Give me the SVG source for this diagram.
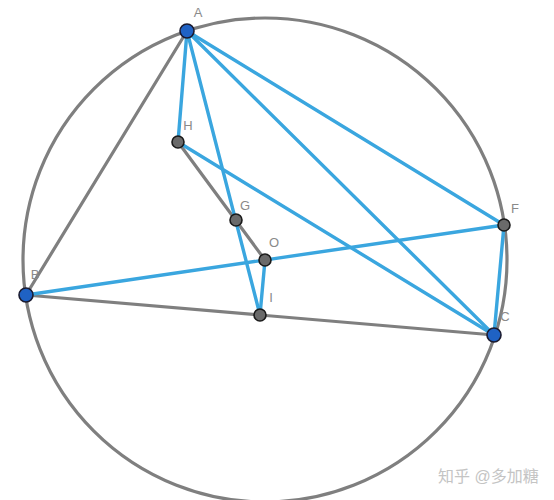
<svg xmlns="http://www.w3.org/2000/svg" width="554" height="500" viewBox="0 0 554 500">
<style>
.gray{stroke:#7f7f7f;stroke-width:3.2;fill:none;stroke-linecap:round}
.blue{stroke:#3aa6df;stroke-width:3.4;fill:none;stroke-linecap:round}
.pb{fill:#1f62c4;stroke:#1a1a2e;stroke-width:1.6}
.pg{fill:#6a6a6a;stroke:#1a1a1a;stroke-width:1.6}
.lbl{font-family:"Liberation Sans",Arial,sans-serif;font-size:13px;fill:#8a8a8a;text-anchor:middle}
.wm{font-family:"Liberation Sans","Noto Sans CJK SC",sans-serif;font-size:16px;fill:#c4c4c4}
</style>
<rect width="554" height="500" fill="#ffffff"/>
<g id="connectors">
<circle class="gray" cx="265" cy="260" r="242"/>
<line class="gray" x1="187" y1="31" x2="26" y2="295"/>
<line class="gray" x1="26" y1="295" x2="494" y2="335"/>
<line class="gray" x1="178" y1="142" x2="265" y2="260"/>
<line class="blue" x1="187" y1="31" x2="178" y2="142"/>
<line class="blue" x1="187" y1="31" x2="260" y2="315"/>
<line class="blue" x1="187" y1="31" x2="504" y2="225"/>
<line class="blue" x1="187" y1="31" x2="494" y2="335"/>
<line class="blue" x1="178" y1="142" x2="494" y2="335"/>
<line class="blue" x1="26" y1="295" x2="504" y2="225"/>
<line class="blue" x1="504" y1="225" x2="494" y2="335"/>
<line class="blue" x1="265" y1="260" x2="260" y2="315"/>
</g>
<g id="node-A"><circle class="pb" cx="187" cy="31" r="7"/><text class="lbl" x="198" y="17">A</text></g>
<g id="node-B"><circle class="pb" cx="26" cy="295" r="7"/><text class="lbl" x="35" y="279">B</text></g>
<g id="node-C"><circle class="pb" cx="494" cy="335" r="7"/><text class="lbl" x="505" y="321">C</text></g>
<g id="node-F"><circle class="pg" cx="504" cy="225" r="6"/><text class="lbl" x="515" y="213">F</text></g>
<g id="node-H"><circle class="pg" cx="178" cy="142" r="6"/><text class="lbl" x="188" y="130">H</text></g>
<g id="node-G"><circle class="pg" cx="236" cy="220" r="6"/><text class="lbl" x="245" y="210">G</text></g>
<g id="node-O"><circle class="pg" cx="265" cy="260" r="6"/><text class="lbl" x="274" y="247">O</text></g>
<g id="node-I"><circle class="pg" cx="260" cy="315" r="6"/><text class="lbl" x="271" y="302">I</text></g>
<text class="wm" x="438" y="482">知乎 @多加糖</text>
</svg>
